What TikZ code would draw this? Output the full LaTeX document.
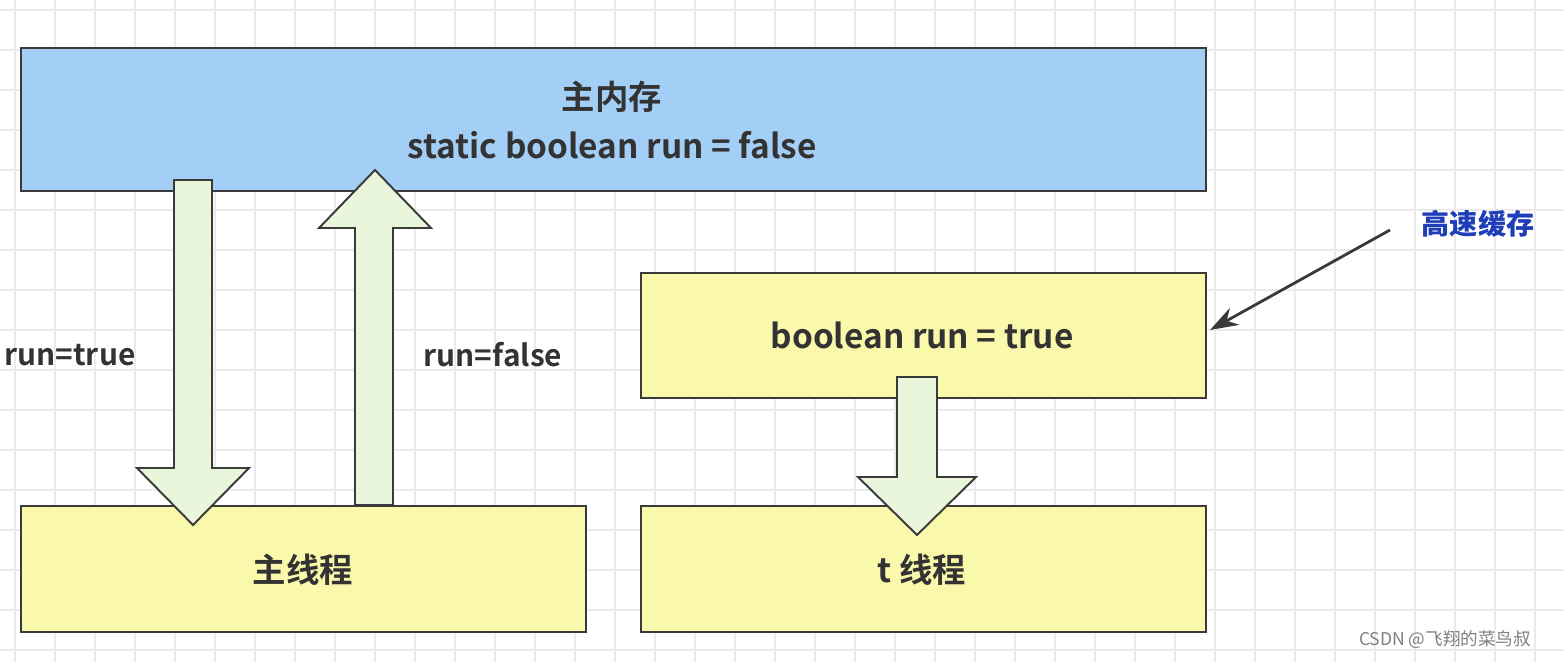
\documentclass[tikz,border=0pt]{standalone}
\usepackage{fontspec}
\setmainfont{Noto Sans CJK SC}[BoldFont={* Bold}]
\usetikzlibrary{arrows.meta}
\definecolor{memblue}{HTML}{A3CFF7}
\definecolor{boxyel}{HTML}{FAF8AA}
\definecolor{arrgreen}{HTML}{E9F6DC}
\definecolor{edge}{HTML}{3A3A3A}
\definecolor{txt}{HTML}{333333}
\definecolor{gridc}{HTML}{EBEBEB}
\definecolor{cacheblue}{HTML}{1F3FB8}
\tikzset{
  box/.style={draw=edge, line width=1.2pt, anchor=north west, inner sep=0pt},
  lbl/.style={font=\fontsize{19pt}{22pt}\selectfont\bfseries, text=txt},
  fat/.style={draw=edge, line width=1.1pt, fill=arrgreen, line join=miter},
}
\begin{document}
\begin{tikzpicture}[x=0.02cm,y=-0.02cm]
\useasboundingbox (0,0) rectangle (1564,662);
\fill[white] (0,0) rectangle (1564,662);
\foreach \i in {0,...,39} \draw[gridc, line width=0.6pt] (\i*40+15,0) -- (\i*40+15,662);
\foreach \j in {0,...,16} \draw[gridc, line width=0.6pt] (0,\j*40+10) -- (1564,\j*40+10);
% boxes
\node[box, fill=memblue, minimum width=1185*0.02cm, minimum height=143*0.02cm] (mem) at (20,47) {};
\node[lbl] (memt1) at (612,97) {主内存};
\node[lbl] (memt2) at (612,145) {static boolean run = false};
\node[box, fill=boxyel, minimum width=565*0.02cm, minimum height=126*0.02cm] (mainth) at (20,505) {};
\node[lbl] at (303,570) {主线程};
\node[box, fill=boxyel, minimum width=565*0.02cm, minimum height=125*0.02cm] (cache) at (640,272) {};
\node[lbl] at (922,335) {boolean run = true};
\node[box, fill=boxyel, minimum width=565*0.02cm, minimum height=126*0.02cm] (tth) at (640,505) {};
\node[lbl] at (922,570) {t 线程};
% fat arrows
\draw[fat] (174,180) -- (212,180) -- (212,468) -- (249,468) -- (193,525) -- (137,468) -- (174,468) -- cycle;
\draw[fat] (355,505) -- (355,228) -- (319,228) -- (375,170) -- (431,228) -- (393,228) -- (393,505) -- cycle;
\draw[fat] (897,377) -- (937,377) -- (937,477) -- (976,477) -- (917,535) -- (858,477) -- (897,477) -- cycle;
\node[lbl, font=\fontsize{17pt}{20pt}\selectfont\bfseries] at (70,355) {run=true};
\node[lbl, font=\fontsize{17pt}{20pt}\selectfont\bfseries] at (493,355) {run=false};
% cache label
\node[text=cacheblue, font=\fontsize{16pt}{19pt}\selectfont\itshape\bfseries] (hc) at (1478,224) {高速缓存};
\coordinate (hcs) at (1390,230);
\draw[edge, line width=1.6pt, -{Stealth[length=16pt,width=11pt]}] (hcs) -- (1210,330);
\node[text=gray, font=\fontsize{10pt}{12pt}\selectfont] at (1445,640) {CSDN @飞翔的菜鸟叔};
\end{tikzpicture}
\end{document}
